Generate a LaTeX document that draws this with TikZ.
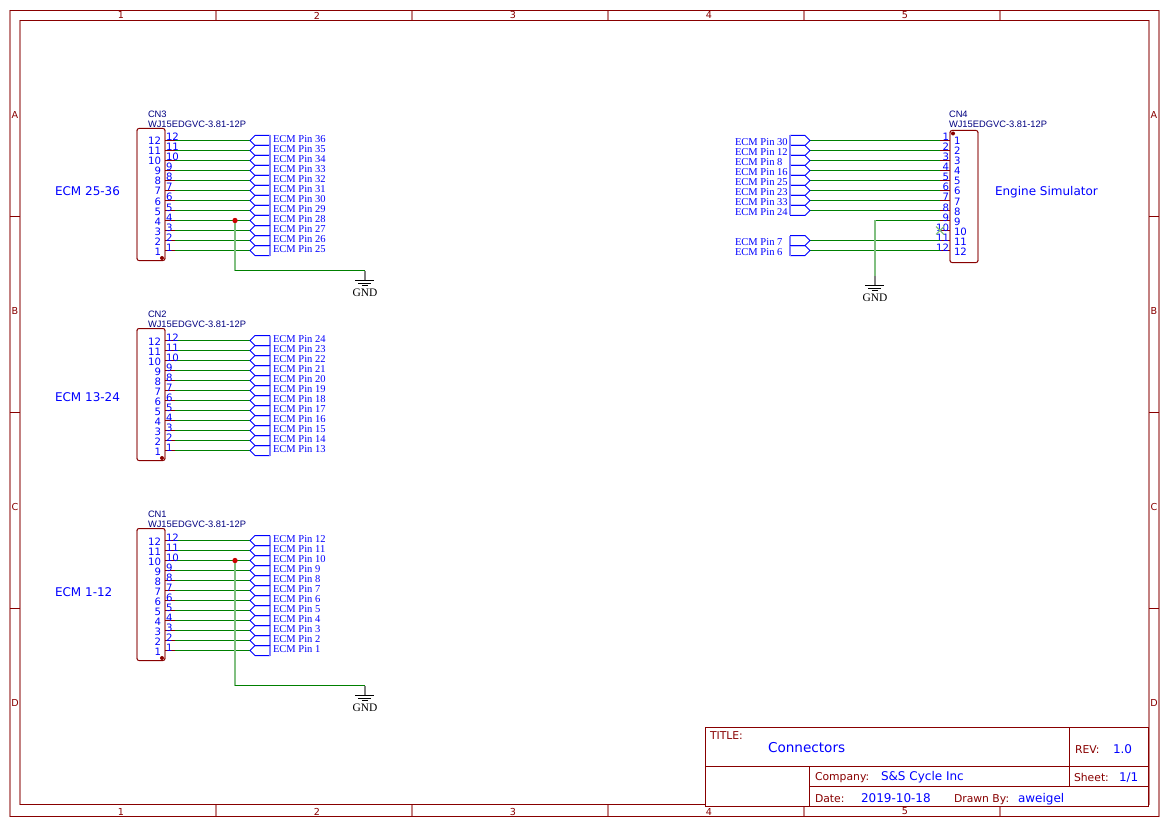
\documentclass[tikz,border=0pt]{standalone}
\usepackage{fontspec}
\setmainfont{DejaVu Sans}
\newfontfamily\serifport{Liberation Serif}
\newfontfamily\refsans{Liberation Sans}
\definecolor{frame}{HTML}{880000}
\definecolor{netblue}{HTML}{0000FF}
\definecolor{wire}{HTML}{008000}
\definecolor{refblue}{HTML}{000080}
\definecolor{junc}{HTML}{CC0000}
\tikzset{
 x=0.75pt,y=-0.75pt,
 framel/.style={draw=frame,line width=0.75pt},
 framev/.style={draw=frame!50!white,line width=1.5pt},
 pinstub/.style={draw=frame,line width=0.75pt},
 netw/.style={draw=wire,line width=0.75pt},
 netv/.style={draw=wire!50!white,line width=1.5pt},
 port/.style={draw=netblue,line width=0.75pt,line join=miter},
 portv/.style={draw=netblue!50!white,line width=1.5pt},
 gndl/.style={draw=black!50!white,line width=1.5pt},
 gndb/.style={draw=black,line width=0.75pt},
 nocon/.style={draw=wire!50!white,line width=1pt},
 tx/.style={inner sep=0pt,outer sep=0pt},
 framet/.style={tx,text=frame,font=\fontsize{7.2pt}{8pt}\selectfont},
 titlet/.style={tx,text=frame,font=\fontsize{8.1pt}{9pt}\selectfont},
 valt/.style={tx,text=netblue,font=\fontsize{9pt}{10pt}\selectfont},
 bigt/.style={tx,text=netblue,font=\fontsize{9pt}{10pt}\selectfont},
 pnum/.style={tx,text=netblue,font=\fontsize{7.6pt}{8pt}\selectfont},
 portt/.style={tx,text=netblue,font=\serifport\fontsize{7.9pt}{8pt}\selectfont},
 reft/.style={tx,text=refblue,font=\refsans\fontsize{7pt}{8pt}\selectfont},
 gndt/.style={tx,text=black,font=\serifport\fontsize{8.6pt}{9pt}\selectfont},
 cbox/.style={minimum width=21pt,minimum height=99pt,inner sep=0pt,outer sep=0pt,anchor=north west},
 juncd/.style={circle,fill=junc,inner sep=0pt,minimum size=4pt},
 refdot/.style={circle,fill=frame,inner sep=0pt,minimum size=3pt},
}
% connector body outline: #1 left x, #2 top y
\newcommand{\boxbody}[2]{%
 \draw[framev] (#1,#2+1.5) -- (#1,#2+130.5) (#1+28,#2+1.5) -- (#1+28,#2+130.5);
 \draw[framel,rounded corners=1.5pt] (#1,#2+2) |- (#1+28,#2) -- (#1+28,#2+2);
 \draw[framel,rounded corners=1.5pt] (#1,#2+130) |- (#1+28,#2+132) -- (#1+28,#2+130);
}
% left-hand connector: #1 name, #2 y of pin 12, #3 pin/port label list (pin 12 first)
\newcommand{\leftconn}[3]{%
 \node[cbox] (#1) at (137,#2-12) {};
 \boxbody{137}{#2-12}
 \node[refdot] (#1dot) at (162,#2+117.5) {};
 \node[reft,anchor=base west] (#1ref) at (148,#2-23) {#1};
 \node[reft,anchor=base west] (#1val) at (148,#2-13) {WJ15EDGVC-3.81-12P};
 \foreach \n/\t [count=\i from 0] in {#3}{%
  \pgfmathsetmacro{\yy}{#2+\i*10}
  \coordinate (#1s\n) at (165,\yy);
  \coordinate (#1e\n) at (175,\yy);
  \coordinate (#1t\n) at (250,\yy);
  \draw[pinstub] (#1s\n) -- (#1e\n);
  \draw[netw] (#1e\n) -- (#1t\n);
  \draw[port] (#1t\n) ++(20,-5) -- ++(-15,0) -- ++(-5,5) -- ++(5,5) -- ++(15,0);
  \draw[portv] (270,\yy-5) -- (270,\yy+5);
  \node[pnum,anchor=base east] (#1i\n) at (161,\yy+4.5) {\n};
  \node[pnum,anchor=base west] (#1o\n) at (166,\yy+0.5) {\n};
  \node[portt,anchor=base west] (#1l\n) at (273,\yy+1.8) {ECM Pin \t};
 }%
}
% ground symbol: #1 name, #2 x, #3 y of stub top
\newcommand{\gndsym}[3]{%
 \coordinate (#1) at (#2,#3);
 \coordinate (#1b) at (#2,#3+10);
 \draw[gndl] (#1) -- (#1b);
 \draw[gndb] (#2-10,#3+10) -- (#2+9,#3+10);
 \draw[gndb] (#2-7,#3+12.5) -- (#2+6,#3+12.5);
 \draw[gndb] (#2-3,#3+15) -- (#2+3,#3+15);
 \node[gndt,anchor=base] (#1t) at (#2,#3+26) {GND};
}
\begin{document}
\begin{tikzpicture}
\useasboundingbox (0,0) rectangle (1169,827);
% sheet frame
\draw[framev] (10,10) -- (10,817) (20,20) -- (20,805) (1149,20) -- (1149,805) (1159,10) -- (1159,817);
\draw[framel] (10,10.5) -- (1159,10.5) (20,20.5) -- (1149,20.5) (20,804.5) -- (1149,804.5) (10,816.5) -- (1159,816.5);
\foreach \k in {216,412,608,804,1000}{
 \draw[framev] (\k,11) -- (\k,20);
 \draw[framev] (\k,805) -- (\k,816);
}
\foreach \k in {216.5,412.5,608.5}{
 \draw[framel] (10,\k) -- (20,\k);
 \draw[framel] (1149,\k) -- (1159,\k);
}
\foreach \k/\x in {1/121,2/317,3/513,4/709,5/905}{
 \node[framet] (top\k) at (\x,15.5) {\k};
 \node[framet] (bot\k) at (\x,811.5) {\k};
}
\foreach \k/\y in {A/115,B/311,C/507,D/703}{
 \node[framet] (lf\k) at (15,\y) {\k};
 \node[framet] (rt\k) at (1154,\y) {\k};
}
% title block
\fill[white] (705,727.5) rectangle (1148.5,806.5);
\draw[framel] (705,727.5) rectangle (1148.5,806.5);
\draw[framel] (705,766) -- (1148.5,766);
\draw[framel] (809.5,766) -- (809.5,806.5);
\draw[framel] (809.5,786) -- (1148.5,786);
\draw[framel] (1069.5,727.5) -- (1069.5,786);
\node[titlet,anchor=base west] (ttitle) at (710,739) {TITLE:};
\node[bigt,anchor=base west,font=\fontsize{10.2pt}{11pt}\selectfont] (tconn) at (768,752) {Connectors};
\node[titlet,anchor=base west] (trev) at (1075,753) {REV:};
\node[valt,anchor=base west] (trevv) at (1113,753) {1.0};
\node[titlet,anchor=base west] (tsheet) at (1074,781) {Sheet:};
\node[valt,anchor=base west] (tsheetv) at (1119,781) {1/1};
\node[titlet,anchor=base west] (tcomp) at (815,780) {Company:};
\node[valt,anchor=base west] (tcompv) at (881,780) {S\&S Cycle Inc};
\node[titlet,anchor=base west] (tdate) at (815,802) {Date:};
\node[valt,anchor=base west] (tdatev) at (861,802) {2019-10-18};
\node[titlet,anchor=base west] (tdrawn) at (954,802) {Drawn By:};
\node[valt,anchor=base west] (tdrawnv) at (1018,802) {aweigel};
% free labels
\node[bigt,anchor=base west] (l1) at (55,196) {ECM 25-36};
\node[bigt,anchor=base west] (l2) at (55,401) {ECM 13-24};
\node[bigt,anchor=base west] (l3) at (55,596) {ECM 1-12};
\node[bigt,anchor=base west] (l4) at (995,196) {Engine Simulator};
% left connectors
\leftconn{CN3}{140.5}{12/36,11/35,10/34,9/33,8/32,7/31,6/30,5/29,4/28,3/27,2/26,1/25}
\leftconn{CN2}{340.5}{12/24,11/23,10/22,9/21,8/20,7/19,6/18,5/17,4/16,3/15,2/14,1/13}
\leftconn{CN1}{540.5}{12/12,11/11,10/10,9/9,8/8,7/7,6/6,5/5,4/4,3/3,2/2,1/1}
% ground nets on the left
\gndsym{GA}{365}{270.5}
\gndsym{GB}{365}{685.5}
\coordinate (JA) at (235,220.5);
\coordinate (JB) at (235,560.5);
\coordinate (KA) at (235,270.5);
\coordinate (KB) at (235,685.5);
\draw[netv] (JA) -- (KA);
\draw[netv] (JB) -- (KB);
\draw[netw] (KA) -- (GA);
\draw[netw] (KB) -- (GB);
\node[juncd] (JAd) at (JA) {};
\node[juncd] (JBd) at (JB) {};
% CN4
\node[cbox] (CN4) at (950,130.5) {};
\boxbody{950}{130.5}
\node[refdot] (CN4dot) at (953,133.5) {};
\node[reft,anchor=base west] (CN4ref) at (949,118) {CN4};
\node[reft,anchor=base west] (CN4val) at (949,128) {WJ15EDGVC-3.81-12P};
\foreach \n in {1,...,12}{
 \pgfmathsetmacro{\yy}{130.5+\n*10}
 \coordinate (CN4s\n) at (950,\yy);
 \coordinate (CN4e\n) at (940,\yy);
 \draw[pinstub] (CN4s\n) -- (CN4e\n);
 \node[pnum,anchor=base west] (CN4i\n) at (954,\yy+4.5) {\n};
 \node[pnum,anchor=base east] (CN4o\n) at (949,\yy+0.5) {\n};
}
\foreach \n/\t in {1/30,2/12,3/8,4/16,5/25,6/23,7/33,8/24,11/7,12/6}{
 \pgfmathsetmacro{\yy}{130.5+\n*10}
 \coordinate (CN4t\n) at (810,\yy);
 \draw[netw] (CN4e\n) -- (CN4t\n);
 \draw[port] (CN4t\n) ++(-20,-5) -- ++(15,0) -- ++(5,5) -- ++(-5,5) -- ++(-15,0);
 \draw[portv] (790,\yy-5) -- (790,\yy+5);
 \node[portt,anchor=base west] (CN4l\n) at (735,\yy+4.8) {ECM Pin \t};
}
\gndsym{GC}{875}{275.5}
\coordinate (KC) at (875,220.5);
\draw[netw] (CN4e9) -- (KC);
\draw[netv] (KC) -- (GC);
\draw[nocon] (936,226.5) -- (944,234.5) (936,234.5) -- (944,226.5);
\end{tikzpicture}
\end{document}
